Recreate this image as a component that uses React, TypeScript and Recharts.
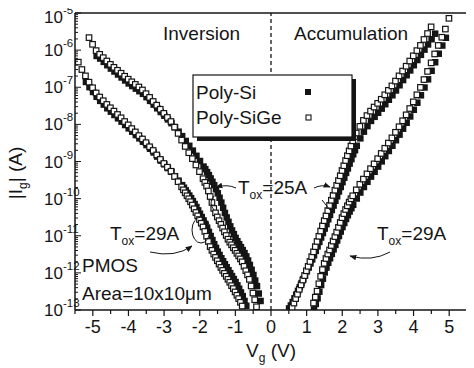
import React from 'react';
import { ScatterChart, Scatter, XAxis, YAxis, ReferenceLine } from 'recharts';

const FONT = '"Liberation Sans", Arial, Helvetica, sans-serif';
const INK = '#151515';

// [Vg (V), log10 |Ig| (A)]
// Tox = 25 A, inversion side
const inv25Si: [number, number][] = [
  [-4.9, -6.15], [-4.8, -6.22], [-4.7, -6.31], [-4.6, -6.4], [-4.5, -6.49], [-4.4, -6.57], [-4.3, -6.65],
  [-4.2, -6.73], [-4.1, -6.81], [-4.0, -6.89], [-3.9, -6.96], [-3.8, -7.03], [-3.7, -7.1], [-3.6, -7.17],
  [-3.5, -7.26], [-3.4, -7.36], [-3.3, -7.46], [-3.2, -7.56], [-3.1, -7.66], [-3.0, -7.76], [-2.9, -7.86],
  [-2.8, -7.96], [-2.7, -8.07], [-2.6, -8.19], [-2.5, -8.31], [-2.4, -8.44], [-2.3, -8.57], [-2.2, -8.7],
  [-2.1, -8.84], [-2.0, -8.98], [-1.9, -9.13], [-1.85, -9.2], [-1.8, -9.28], [-1.75, -9.36], [-1.7, -9.45],
  [-1.65, -9.54], [-1.6, -9.63], [-1.55, -9.74], [-1.5, -9.85], [-1.45, -9.97], [-1.4, -10.1], [-1.35, -10.24],
  [-1.3, -10.38], [-1.25, -10.5], [-1.2, -10.62], [-1.15, -10.74], [-1.1, -10.85], [-1.05, -10.95], [-1.0, -11.05],
  [-0.95, -11.14], [-0.9, -11.22], [-0.85, -11.3], [-0.8, -11.38], [-0.75, -11.46], [-0.7, -11.55], [-0.65, -11.66],
  [-0.6, -11.78], [-0.55, -11.91], [-0.5, -12.05], [-0.45, -12.2], [-0.4, -12.35], [-0.35, -12.55], [-0.3, -12.75],
];
const inv25SiGe: [number, number][] = [
  [-5.1, -5.67], [-5.0, -5.85], [-4.9, -6.02], [-4.8, -6.12], [-4.7, -6.21], [-4.6, -6.3], [-4.5, -6.39],
  [-4.4, -6.47], [-4.3, -6.55], [-4.2, -6.63], [-4.1, -6.71], [-4.0, -6.79], [-3.9, -6.86], [-3.8, -6.93],
  [-3.7, -7.0], [-3.6, -7.08], [-3.5, -7.18], [-3.4, -7.28], [-3.3, -7.39], [-3.2, -7.49], [-3.1, -7.6],
  [-3.0, -7.71], [-2.9, -7.82], [-2.8, -7.93], [-2.7, -8.08], [-2.6, -8.25], [-2.5, -8.43], [-2.4, -8.6],
  [-2.3, -8.77], [-2.2, -8.93], [-2.1, -9.1], [-2.0, -9.28], [-1.9, -9.47], [-1.85, -9.57], [-1.8, -9.67],
  [-1.75, -9.8], [-1.7, -9.95], [-1.65, -10.11], [-1.6, -10.27], [-1.55, -10.39], [-1.5, -10.5], [-1.45, -10.6],
  [-1.4, -10.7], [-1.35, -10.8], [-1.3, -10.9], [-1.25, -11.0], [-1.2, -11.1], [-1.15, -11.18], [-1.1, -11.25],
  [-1.05, -11.33], [-1.0, -11.4], [-0.95, -11.48], [-0.9, -11.55], [-0.85, -11.63], [-0.8, -11.71], [-0.75, -11.83],
  [-0.7, -11.95], [-0.65, -12.06], [-0.6, -12.18], [-0.55, -12.36], [-0.5, -12.55], [-0.45, -12.73], [-0.4, -12.92],
];
// Tox = 29 A, inversion side
const inv29Si: [number, number][] = [
  [-5.2, -6.85], [-5.1, -6.99], [-5.0, -7.12], [-4.9, -7.25], [-4.8, -7.36], [-4.7, -7.46], [-4.6, -7.56],
  [-4.5, -7.65], [-4.4, -7.74], [-4.3, -7.83], [-4.2, -7.92], [-4.1, -8.01], [-4.0, -8.1], [-3.9, -8.19],
  [-3.8, -8.28], [-3.7, -8.37], [-3.6, -8.46], [-3.5, -8.55], [-3.4, -8.65], [-3.3, -8.75], [-3.2, -8.86],
  [-3.1, -8.97], [-3.0, -9.07], [-2.9, -9.17], [-2.8, -9.27], [-2.7, -9.39], [-2.6, -9.51], [-2.5, -9.63],
  [-2.45, -9.7], [-2.4, -9.77], [-2.35, -9.84], [-2.3, -9.91], [-2.25, -9.98], [-2.2, -10.06], [-2.15, -10.14],
  [-2.1, -10.22], [-2.05, -10.31], [-2.0, -10.4], [-1.95, -10.49], [-1.9, -10.58], [-1.85, -10.68], [-1.8, -10.78],
  [-1.75, -10.89], [-1.7, -11.0], [-1.65, -11.11], [-1.6, -11.22], [-1.55, -11.32], [-1.5, -11.42], [-1.45, -11.51],
  [-1.4, -11.6], [-1.35, -11.68], [-1.3, -11.76], [-1.25, -11.84], [-1.2, -11.92], [-1.15, -12.0], [-1.1, -12.08],
  [-1.05, -12.16], [-1.0, -12.24], [-0.95, -12.33], [-0.9, -12.42], [-0.85, -12.52], [-0.8, -12.62], [-0.75, -12.75],
  [-0.7, -12.88],
];
const inv29SiGe: [number, number][] = [
  [-5.4, -6.33], [-5.3, -6.53], [-5.2, -6.7], [-5.1, -6.87], [-5.0, -7.02], [-4.9, -7.16], [-4.8, -7.27],
  [-4.7, -7.37], [-4.6, -7.47], [-4.5, -7.56], [-4.4, -7.65], [-4.3, -7.74], [-4.2, -7.83], [-4.1, -7.93],
  [-4.0, -8.02], [-3.9, -8.12], [-3.8, -8.21], [-3.7, -8.31], [-3.6, -8.4], [-3.5, -8.5], [-3.4, -8.61],
  [-3.3, -8.71], [-3.2, -8.83], [-3.1, -8.95], [-3.0, -9.06], [-2.9, -9.16], [-2.8, -9.27], [-2.7, -9.41],
  [-2.6, -9.55], [-2.5, -9.69], [-2.45, -9.77], [-2.4, -9.85], [-2.35, -9.93], [-2.3, -10.01], [-2.25, -10.09],
  [-2.2, -10.18], [-2.15, -10.28], [-2.1, -10.38], [-2.05, -10.47], [-2.0, -10.57], [-1.95, -10.67], [-1.9, -10.77],
  [-1.85, -10.89], [-1.8, -11.02], [-1.75, -11.16], [-1.7, -11.3], [-1.65, -11.4], [-1.6, -11.5], [-1.55, -11.59],
  [-1.5, -11.68], [-1.45, -11.77], [-1.4, -11.86], [-1.35, -11.94], [-1.3, -12.02], [-1.25, -12.1], [-1.2, -12.18],
  [-1.15, -12.26], [-1.1, -12.35], [-1.05, -12.43], [-1.0, -12.52], [-0.95, -12.61], [-0.9, -12.7], [-0.85, -12.8],
  [-0.8, -12.9],
];
// Tox = 25 A, accumulation side
const acc25Si: [number, number][] = [
  [0.5, -12.95], [0.55, -12.87], [0.6, -12.78], [0.65, -12.68], [0.7, -12.58], [0.75, -12.48], [0.8, -12.38],
  [0.85, -12.27], [0.9, -12.16], [0.95, -12.06], [1.0, -11.95], [1.05, -11.85], [1.1, -11.74], [1.15, -11.63],
  [1.2, -11.52], [1.25, -11.4], [1.3, -11.28], [1.35, -11.16], [1.4, -11.04], [1.45, -10.92], [1.5, -10.8],
  [1.55, -10.68], [1.6, -10.55], [1.65, -10.43], [1.7, -10.3], [1.75, -10.18], [1.8, -10.05], [1.85, -9.93],
  [1.9, -9.8], [1.95, -9.68], [2.0, -9.55], [2.05, -9.43], [2.1, -9.3], [2.15, -9.18], [2.2, -9.05], [2.25, -8.93],
  [2.3, -8.8], [2.35, -8.69], [2.4, -8.57], [2.5, -8.37], [2.6, -8.19], [2.7, -8.04], [2.8, -7.9], [2.9, -7.79],
  [3.0, -7.68], [3.1, -7.57], [3.2, -7.45], [3.3, -7.33], [3.4, -7.21], [3.5, -7.08], [3.6, -6.94], [3.7, -6.8],
  [3.8, -6.67], [3.9, -6.54], [4.0, -6.4], [4.1, -6.26], [4.2, -6.12], [4.3, -5.98], [4.4, -5.84], [4.5, -5.7],
  [4.6, -5.55],
];
const acc25SiGe: [number, number][] = [
  [0.6, -12.93], [0.65, -12.82], [0.7, -12.7], [0.75, -12.58], [0.8, -12.45], [0.85, -12.33], [0.9, -12.2],
  [0.95, -12.08], [1.0, -11.95], [1.05, -11.83], [1.1, -11.7], [1.15, -11.57], [1.2, -11.44], [1.25, -11.3],
  [1.3, -11.16], [1.35, -11.02], [1.4, -10.88], [1.45, -10.74], [1.5, -10.6], [1.55, -10.47], [1.6, -10.33],
  [1.65, -10.19], [1.7, -10.05], [1.75, -9.92], [1.8, -9.78], [1.85, -9.65], [1.9, -9.52], [1.95, -9.39],
  [2.0, -9.25], [2.05, -9.12], [2.1, -8.98], [2.15, -8.85], [2.2, -8.72], [2.25, -8.59], [2.3, -8.45],
  [2.35, -8.34], [2.4, -8.24], [2.5, -8.06], [2.6, -7.9], [2.7, -7.77], [2.8, -7.65], [2.9, -7.54], [3.0, -7.44],
  [3.1, -7.33], [3.2, -7.21], [3.3, -7.09], [3.4, -6.97], [3.5, -6.84], [3.6, -6.7], [3.7, -6.57], [3.8, -6.44],
  [3.9, -6.3], [4.0, -6.16], [4.1, -6.02], [4.2, -5.88], [4.3, -5.72], [4.4, -5.56], [4.5, -5.38],
];
// Tox = 29 A, accumulation side
const acc29Si: [number, number][] = [
  [1.2, -12.98], [1.25, -12.83], [1.3, -12.68], [1.35, -12.5], [1.4, -12.32], [1.45, -12.15], [1.5, -11.98],
  [1.55, -11.85], [1.6, -11.72], [1.65, -11.6], [1.7, -11.48], [1.75, -11.36], [1.8, -11.24], [1.85, -11.12],
  [1.9, -11.0], [1.95, -10.88], [2.0, -10.76], [2.05, -10.65], [2.1, -10.54], [2.15, -10.44], [2.2, -10.34],
  [2.25, -10.25], [2.3, -10.16], [2.4, -9.99], [2.5, -9.83], [2.6, -9.68], [2.7, -9.54], [2.8, -9.4], [2.9, -9.27],
  [3.0, -9.13], [3.1, -8.99], [3.2, -8.85], [3.3, -8.71], [3.4, -8.57], [3.5, -8.42], [3.6, -8.27], [3.7, -8.11],
  [3.8, -7.95], [3.9, -7.78], [4.0, -7.6], [4.1, -7.41], [4.2, -7.21], [4.3, -7.0], [4.4, -6.78], [4.5, -6.55],
  [4.6, -6.32], [4.7, -6.09], [4.8, -5.87], [4.9, -5.66],
];
const acc29SiGe: [number, number][] = [
  [1.2, -12.82], [1.25, -12.66], [1.3, -12.5], [1.35, -12.3], [1.4, -12.1], [1.45, -11.92], [1.5, -11.75],
  [1.55, -11.62], [1.6, -11.5], [1.65, -11.39], [1.7, -11.27], [1.75, -11.15], [1.8, -11.03], [1.85, -10.91],
  [1.9, -10.78], [1.95, -10.65], [2.0, -10.52], [2.05, -10.41], [2.1, -10.3], [2.15, -10.2], [2.2, -10.1],
  [2.25, -10.01], [2.3, -9.93], [2.4, -9.77], [2.5, -9.62], [2.6, -9.48], [2.7, -9.34], [2.8, -9.2], [2.9, -9.07],
  [3.0, -8.93], [3.1, -8.79], [3.2, -8.65], [3.3, -8.51], [3.4, -8.37], [3.5, -8.22], [3.6, -8.07], [3.7, -7.91],
  [3.8, -7.75], [3.9, -7.58], [4.0, -7.4], [4.1, -7.21], [4.2, -7.01], [4.3, -6.8], [4.4, -6.58], [4.5, -6.35],
  [4.6, -6.11], [4.7, -5.88], [4.8, -5.66], [4.9, -5.44], [5.0, -5.15],
];

const xTicks = [-5.5, -5, -4.5, -4, -3.5, -3, -2.5, -2, -1.5, -1, -0.5, 0, 0.5, 1, 1.5, 2, 2.5, 3, 3.5, 4, 4.5, 5, 5.5];
const decades = [-13, -12, -11, -10, -9, -8, -7, -6, -5];
const mantissas = [1, 2, 3, 4, 5, 6, 7, 8, 9];

const yTicks: number[] = [];
decades.forEach((d) => {
  mantissas.forEach((m) => {
    if (d < -5 || m === 1) yTicks.push(m * Math.pow(10, d));
  });
});

const toPts = (rows: [number, number][]) => rows.map(([v, l]) => ({ v, i: Math.pow(10, l) }));

const FilledSquare = (p: any) => (
  <rect x={p.cx - 3} y={p.cy - 3} width={6.5} height={6.5} fill={INK} />
);
const OpenSquare = (p: any) => (
  <rect x={p.cx - 3} y={p.cy - 3} width={5.5} height={5.5} fill="#fff" stroke={INK} strokeWidth={1.2} />
);

const XTick = ({ x, y, payload }: any) => {
  const v = payload.value;
  const major = Number.isInteger(v);
  return (
    <g>
      <line x1={x} x2={x} y1={y} y2={y + (major ? 6 : 4)} stroke={INK} strokeWidth={1.2} />
      {major && (
        <text x={x} y={y + 23} textAnchor="middle" fontFamily={FONT} fontSize={18} fill={INK}>
          {v}
        </text>
      )}
    </g>
  );
};

const YTick = ({ x, y, payload }: any) => {
  const val = payload.value;
  const e = Math.round(Math.log10(val));
  const major = Math.abs(val / Math.pow(10, e) - 1) < 1e-6;
  const dy = e === -5 ? 4 : 0;
  return (
    <g>
      <line x1={x} x2={x + (major ? 6 : 3)} y1={y} y2={y} stroke={INK} strokeWidth={1} />
      {major && (
        <g fontFamily={FONT} fill={INK}>
          <text x={x - 12} y={y + 6 + dy} textAnchor="end" fontSize={17}>10</text>
          <text x={x - 12} y={y - 3 + dy} textAnchor="start" fontSize={11.5}>{e}</text>
        </g>
      )}
    </g>
  );
};

const Overlay = () => (
  <svg
    width={474}
    height={368}
    style={{ position: 'absolute', left: 0, top: 0, pointerEvents: 'none' }}
    fontFamily={FONT}
    fill={INK}
  >
    <defs>
      <marker id="ah" viewBox="0 0 10 10" refX="9" refY="5" markerWidth="7" markerHeight="7" orient="auto">
        <path d="M0,1 L10,5 L0,9 z" fill={INK} />
      </marker>
    </defs>
    <text x={163} y={40} fontSize={19}>Inversion</text>
    <text x={294} y={40} fontSize={19}>Accumulation</text>

    <rect x={197} y={79} width={159} height={62} fill={INK} />
    <rect x={193} y={75} width={159} height={62} fill="#fff" stroke={INK} strokeWidth={1.2} />
    <text x={196} y={99} fontSize={19}>Poly-Si</text>
    <text x={196} y={124} fontSize={19}>Poly-SiGe</text>
    <rect x={305} y={89} width={6} height={6} fill={INK} />
    <rect x={306} y={115} width={5} height={5} fill="#fff" stroke={INK} strokeWidth={1.1} />

    <text x={238} y={194} fontSize={19}>
      T<tspan fontSize={12} dy={5}>ox</tspan><tspan dy={-5}>=25A</tspan>
    </text>
    <path d="M236,188 Q228,184 216,187" fill="none" stroke={INK} strokeWidth={1} markerEnd="url(#ah)" />
    <path d="M214,196 Q208,203 214,210" fill="none" stroke={INK} strokeWidth={1} />
    <path d="M314,188 Q322,184 330,187" fill="none" stroke={INK} strokeWidth={1} markerEnd="url(#ah)" />
    <path d="M322,200 L330,210" fill="none" stroke={INK} strokeWidth={1} />

    <text x={110} y={240} fontSize={19}>
      T<tspan fontSize={12} dy={5}>ox</tspan><tspan dy={-5}>=29A</tspan>
    </text>
    <path d="M150,252 Q175,258 192,246" fill="none" stroke={INK} strokeWidth={1} markerEnd="url(#ah)" />
    <ellipse cx={201} cy={230} rx={9} ry={13} fill="none" stroke={INK} strokeWidth={1} />

    <text x={377} y={240} fontSize={19}>
      T<tspan fontSize={12} dy={5}>ox</tspan><tspan dy={-5}>=29A</tspan>
    </text>
    <path d="M390,252 Q372,262 350,256" fill="none" stroke={INK} strokeWidth={1} markerEnd="url(#ah)" />

    <text x={82} y={272} fontSize={19}>PMOS</text>
    <text x={82} y={300} fontSize={19}>Area=10x10μm</text>

    <text x={271} y={357} fontSize={19} textAnchor="middle">
      V<tspan fontSize={12} dy={5}>g</tspan><tspan dy={-5}> (V)</tspan>
    </text>
    <text transform="translate(22,173) rotate(-90)" fontSize={19} textAnchor="middle">
      |I<tspan fontSize={12} dy={5}>g</tspan><tspan dy={-5}>| (A)</tspan>
    </text>
  </svg>
);

export default function App() {
  return (
    <div style={{ position: 'relative', top: -8, left: -8, width: 474, height: 368 }}>
      <ScatterChart width={474} height={368} margin={{ top: 13, right: 7, bottom: 0, left: 0 }}>
        <XAxis
          type="number"
          dataKey="v"
          domain={[-5.5, 5.5]}
          ticks={xTicks}
          interval={0}
          tick={(p: any) => <XTick {...p} />}
          tickLine={false}
          tickSize={0}
          tickMargin={0}
          height={58}
          allowDataOverflow
          axisLine={{ stroke: INK, strokeWidth: 1.5 }}
        />
        <YAxis
          type="number"
          dataKey="i"
          scale="log"
          domain={[1e-13, 1e-5]}
          ticks={yTicks}
          interval={0}
          tick={(p: any) => <YTick {...p} />}
          tickLine={false}
          tickSize={0}
          tickMargin={0}
          width={75}
          allowDataOverflow
          axisLine={{ stroke: INK, strokeWidth: 1.5 }}
        />
        <ReferenceLine y={1e-5} stroke={INK} strokeWidth={1.5} />
        <ReferenceLine x={5.5} stroke={INK} strokeWidth={1.5} />
        <ReferenceLine x={0} stroke={INK} strokeWidth={1.3} strokeDasharray="4 3" />
        <Scatter data={toPts(inv25Si)} shape={FilledSquare} isAnimationActive={false} />
        <Scatter data={toPts(inv29Si)} shape={FilledSquare} isAnimationActive={false} />
        <Scatter data={toPts(acc25Si)} shape={FilledSquare} isAnimationActive={false} />
        <Scatter data={toPts(acc29Si)} shape={FilledSquare} isAnimationActive={false} />
        <Scatter data={toPts(inv25SiGe)} shape={OpenSquare} isAnimationActive={false} />
        <Scatter data={toPts(inv29SiGe)} shape={OpenSquare} isAnimationActive={false} />
        <Scatter data={toPts(acc25SiGe)} shape={OpenSquare} isAnimationActive={false} />
        <Scatter data={toPts(acc29SiGe)} shape={OpenSquare} isAnimationActive={false} />
      </ScatterChart>
      <Overlay />
    </div>
  );
}
